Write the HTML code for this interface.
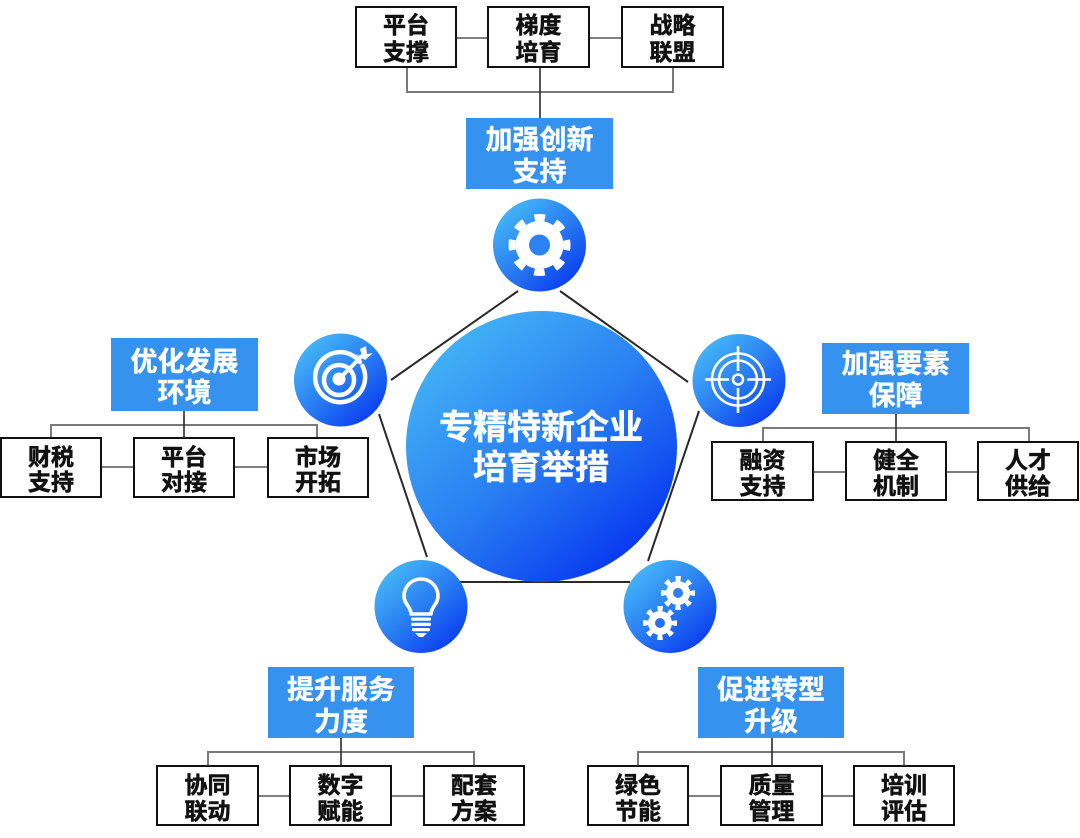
<!DOCTYPE html>
<html><head><meta charset="utf-8"><style>
html,body{margin:0;padding:0;background:#fff;}
svg{display:block;}
text{font-family:"Liberation Sans","Noto Sans CJK SC",sans-serif;font-weight:bold;text-anchor:middle;}
.bt{font-size:23px;fill:#111;stroke:#111;stroke-width:0.55;}
.wt{font-size:27px;fill:#fff;stroke:#fff;stroke-width:0.4;}
.bx{fill:#fff;stroke:#111;stroke-width:2;}
.bl{fill:#3592ee;}
.br{stroke:#7a7a7a;stroke-width:2;fill:none;}
.cn{stroke:#555;stroke-width:1.6;fill:none;}
.pl{stroke:#2a2a2a;stroke-width:2;fill:none;}
</style></head><body>
<svg width="1080" height="838" viewBox="0 0 1080 838" xmlns="http://www.w3.org/2000/svg">
<defs>
<linearGradient id="g" x1="0.15" y1="0.1" x2="0.85" y2="0.9">
<stop offset="0" stop-color="#45b6f8"/><stop offset="0.5" stop-color="#2a7ef2"/><stop offset="1" stop-color="#0a3ef0"/>
</linearGradient>
<linearGradient id="gc" x1="0.15" y1="0.1" x2="0.85" y2="0.9">
<stop offset="0" stop-color="#42b2f6"/><stop offset="0.5" stop-color="#2a80f2"/><stop offset="1" stop-color="#0636f0"/>
</linearGradient>
</defs>

<!-- pentagon lines -->
<line class="pl" x1="518" y1="291" x2="391" y2="380"/>
<line class="pl" x1="560" y1="291" x2="688" y2="382"/>
<line class="pl" x1="379" y1="414" x2="427" y2="557"/>
<line class="pl" x1="699" y1="411" x2="648" y2="561"/>
<line class="pl" x1="460" y1="582" x2="630" y2="582"/>

<!-- center circle -->
<circle cx="541.5" cy="446.5" r="135.5" fill="url(#gc)"/>
<text x="541" y="439" style="font-size:34px;fill:#fff;stroke:#fff;stroke-width:0.5">专精特新企业</text>
<text x="541" y="479" style="font-size:34px;fill:#fff;stroke:#fff;stroke-width:0.5">培育举措</text>

<!-- ===== TOP GROUP ===== -->
<rect class="bx" x="356" y="7" width="100" height="60"/>
<rect class="bx" x="488" y="7" width="101" height="60"/>
<rect class="bx" x="622" y="7" width="101" height="60"/>
<line class="cn" x1="457" y1="38" x2="487" y2="38"/>
<line class="cn" x1="590" y1="38" x2="621" y2="38"/>
<text class="bt" x="406" y="33">平台</text><text class="bt" x="406" y="60">支撑</text>
<text class="bt" x="538.5" y="33">梯度</text><text class="bt" x="538.5" y="60">培育</text>
<text class="bt" x="672.5" y="33">战略</text><text class="bt" x="672.5" y="60">联盟</text>
<path class="br" d="M407 68 V92 H673 V68"/>
<line class="pl" x1="540" y1="68" x2="540" y2="118" style="stroke-width:1.6"/>
<rect class="bl" x="466" y="118" width="147" height="71"/>
<text class="wt" x="539.5" y="149">加强创新</text>
<text class="wt" x="539.5" y="181">支持</text>

<!-- top gear circle -->
<circle cx="539.5" cy="245" r="46.5" fill="url(#g)"/>
<circle cx="539.5" cy="245" r="24" fill="#fff"/>
<circle cx="539.5" cy="245" r="27.5" fill="none" stroke="#fff" stroke-width="7" stroke-dasharray="10.5 11.1" stroke-dashoffset="5.25"/>
<circle cx="539.5" cy="245" r="10.5" fill="#2b82f2"/>

<!-- ===== LEFT GROUP ===== -->
<rect class="bl" x="111" y="338" width="147" height="73"/>
<text class="wt" x="184.5" y="371">优化发展</text>
<text class="wt" x="184.5" y="402">环境</text>
<path class="br" d="M51 438 V425 H317 V438"/>
<line class="pl" x1="184" y1="411" x2="184" y2="438" style="stroke-width:1.6"/>
<rect class="bx" x="1" y="438" width="100" height="59"/>
<rect class="bx" x="134" y="438" width="100" height="59"/>
<rect class="bx" x="268" y="438" width="100" height="59"/>
<line class="cn" x1="102" y1="467" x2="133" y2="467"/>
<line class="cn" x1="235" y1="467" x2="267" y2="467"/>
<text class="bt" x="51" y="465">财税</text><text class="bt" x="51" y="490">支持</text>
<text class="bt" x="184" y="465">平台</text><text class="bt" x="184" y="490">对接</text>
<text class="bt" x="318" y="465">市场</text><text class="bt" x="318" y="490">开拓</text>

<!-- target circle -->
<circle cx="340.5" cy="380" r="46.5" fill="url(#g)"/>
<path d="M 360 362 A 25 25 0 1 0 362.5 366" fill="none" stroke="#fff" stroke-width="4.5" stroke-linecap="round"/>
<circle cx="339" cy="380" r="15" fill="none" stroke="#fff" stroke-width="4.5"/>
<circle cx="339" cy="379" r="6.5" fill="#fff"/>
<line x1="339" y1="379" x2="362" y2="356" stroke="#fff" stroke-width="4" stroke-linecap="round"/>
<path d="M355 354 L362 356 L360 349 L366 346 L367 354 L373 353 L365 360 Z" fill="#fff"/>

<!-- ===== RIGHT GROUP ===== -->
<rect class="bl" x="822" y="343" width="147" height="71"/>
<text class="wt" x="895.5" y="373">加强要素</text>
<text class="wt" x="895.5" y="405">保障</text>
<path class="br" d="M763 442 V428 H1029 V442"/>
<line class="pl" x1="896" y1="414" x2="896" y2="442" style="stroke-width:1.6"/>
<rect class="bx" x="712" y="442" width="101" height="58"/>
<rect class="bx" x="846" y="442" width="100" height="58"/>
<rect class="bx" x="978" y="442" width="100" height="58"/>
<line class="cn" x1="814" y1="472" x2="845" y2="472"/>
<line class="cn" x1="947" y1="472" x2="977" y2="472"/>
<text class="bt" x="762.5" y="468">融资</text><text class="bt" x="762.5" y="494">支持</text>
<text class="bt" x="896" y="468">健全</text><text class="bt" x="896" y="494">机制</text>
<text class="bt" x="1028" y="468">人才</text><text class="bt" x="1028" y="494">供给</text>

<!-- crosshair circle -->
<circle cx="739" cy="380.5" r="46.5" fill="url(#g)"/>
<g stroke="#fff" fill="none" stroke-width="2.6">
<circle cx="738" cy="379.5" r="26"/>
<circle cx="738" cy="379.5" r="19"/>
<circle cx="738" cy="379.5" r="5"/>
<line x1="738" y1="346" x2="738" y2="371"/>
<line x1="738" y1="388" x2="738" y2="413"/>
<line x1="705" y1="379.5" x2="729" y2="379.5"/>
<line x1="747" y1="379.5" x2="771" y2="379.5"/>
</g>

<!-- ===== BOTTOM LEFT GROUP ===== -->
<circle cx="421" cy="606.5" r="46.5" fill="url(#g)"/>
<path d="M411 614 C411 607 404 604 404 596 A17 17 0 1 1 438 596 C438 604 431 607 431 614 Z" fill="none" stroke="#fff" stroke-width="3.6" stroke-linejoin="round"/>
<rect x="411" y="617.5" width="20" height="3.2" rx="1.5" fill="#fff"/>
<rect x="411" y="622.8" width="20" height="3.2" rx="1.5" fill="#fff"/>
<rect x="412" y="628" width="18" height="3.2" rx="1.5" fill="#fff"/>
<path d="M415 633 H427 L423 637 H419 Z" fill="#fff"/>

<rect class="bl" x="268" y="667" width="146" height="71"/>
<text class="wt" x="341" y="699">提升服务</text>
<text class="wt" x="341" y="731">力度</text>
<path class="br" d="M208 766 V752 H474 V766"/>
<line class="pl" x1="341" y1="738" x2="341" y2="766" style="stroke-width:1.6"/>
<rect class="bx" x="157" y="766" width="101" height="59"/>
<rect class="bx" x="290" y="766" width="101" height="59"/>
<rect class="bx" x="424" y="766" width="100" height="59"/>
<line class="cn" x1="259" y1="796" x2="289" y2="796"/>
<line class="cn" x1="392" y1="796" x2="423" y2="796"/>
<text class="bt" x="207.5" y="793">协同</text><text class="bt" x="207.5" y="819">联动</text>
<text class="bt" x="340.5" y="793">数字</text><text class="bt" x="340.5" y="819">赋能</text>
<text class="bt" x="474" y="793">配套</text><text class="bt" x="474" y="819">方案</text>

<!-- ===== BOTTOM RIGHT GROUP ===== -->
<circle cx="670" cy="606.5" r="46.5" fill="url(#g)"/>
<g>
<circle cx="678" cy="593" r="12" fill="#fff"/>
<circle cx="678" cy="593" r="14.5" fill="none" stroke="#fff" stroke-width="5" stroke-dasharray="5.2 6.19" stroke-dashoffset="2.6"/>
<circle cx="678" cy="593" r="5" fill="#2b7ff2"/>
<circle cx="660" cy="623" r="12" fill="#fff"/>
<circle cx="660" cy="623" r="14.5" fill="none" stroke="#fff" stroke-width="5" stroke-dasharray="5.2 6.19" stroke-dashoffset="2.6"/>
<circle cx="660" cy="623" r="5" fill="#2670f2"/>
</g>

<rect class="bl" x="698" y="667" width="146" height="71"/>
<text class="wt" x="771" y="699">促进转型</text>
<text class="wt" x="771" y="731">升级</text>
<path class="br" d="M638 766 V752 H904 V766"/>
<line class="pl" x1="772" y1="738" x2="772" y2="766" style="stroke-width:1.6"/>
<rect class="bx" x="588" y="766" width="100" height="59"/>
<rect class="bx" x="721" y="766" width="101" height="59"/>
<rect class="bx" x="854" y="766" width="100" height="59"/>
<line class="cn" x1="689" y1="796" x2="720" y2="796"/>
<line class="cn" x1="823" y1="796" x2="853" y2="796"/>
<text class="bt" x="638" y="793">绿色</text><text class="bt" x="638" y="819">节能</text>
<text class="bt" x="771.5" y="793">质量</text><text class="bt" x="771.5" y="819">管理</text>
<text class="bt" x="904" y="793">培训</text><text class="bt" x="904" y="819">评估</text>
</svg>
</body></html>
